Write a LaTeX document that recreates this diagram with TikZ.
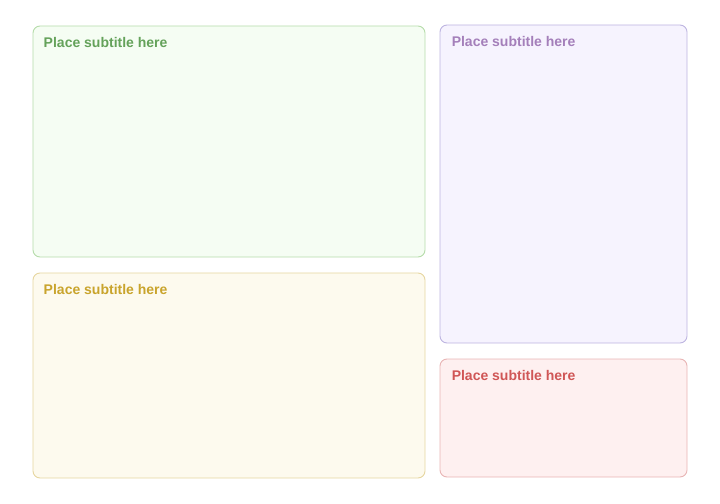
\documentclass[tikz,border=0pt]{standalone}
\usepackage{fontspec}
\setmainfont{Liberation Sans}
\usepackage{tikz}

\definecolor{greenfill}{HTML}{F5FDF3}
\definecolor{greenline}{HTML}{B5DCAA}
\definecolor{greentext}{HTML}{64A25A}
\definecolor{purplefill}{HTML}{F6F3FE}
\definecolor{purpleline}{HTML}{BDB4E0}
\definecolor{purpletext}{HTML}{A47FBA}
\definecolor{yellowfill}{HTML}{FDFAEE}
\definecolor{yellowline}{HTML}{E6D6A0}
\definecolor{yellowtext}{HTML}{C9A42C}
\definecolor{redfill}{HTML}{FEF0F0}
\definecolor{redline}{HTML}{E8B4B4}
\definecolor{redtext}{HTML}{D05656}

\begin{document}
\begin{tikzpicture}[x=1bp, y=-1bp,
  panel/.style={rectangle, draw, rounded corners=7bp, line width=0.9bp, inner sep=0pt},
  subtitle/.style={anchor=north west, inner sep=0pt, font=\fontsize{14bp}{16bp}\selectfont\bfseries}]
  \useasboundingbox (0,0) rectangle (720,504);
  \node [panel, fill=greenfill, draw=greenline, minimum width=392bp, minimum height=231bp] (green) at (229,141.5) {};
  \node [panel, fill=yellowfill, draw=yellowline, minimum width=392bp, minimum height=205bp] (yellow) at (229,375.5) {};
  \node [panel, fill=purplefill, draw=purpleline, minimum width=247bp, minimum height=318bp] (purple) at (563.5,184) {};
  \node [panel, fill=redfill, draw=redline, minimum width=247bp, minimum height=118bp] (red) at (563.5,418) {};
  \node [subtitle, text=greentext] (greentitle) at ([shift={(11bp,-11.5bp)}]green.north west) {Place subtitle here};
  \node [subtitle, text=yellowtext] (yellowtitle) at ([shift={(11bp,-11.5bp)}]yellow.north west) {Place subtitle here};
  \node [subtitle, text=purpletext] (purpletitle) at ([shift={(12bp,-11.5bp)}]purple.north west) {Place subtitle here};
  \node [subtitle, text=redtext] (redtitle) at ([shift={(12bp,-11.5bp)}]red.north west) {Place subtitle here};
\end{tikzpicture}
\end{document}
